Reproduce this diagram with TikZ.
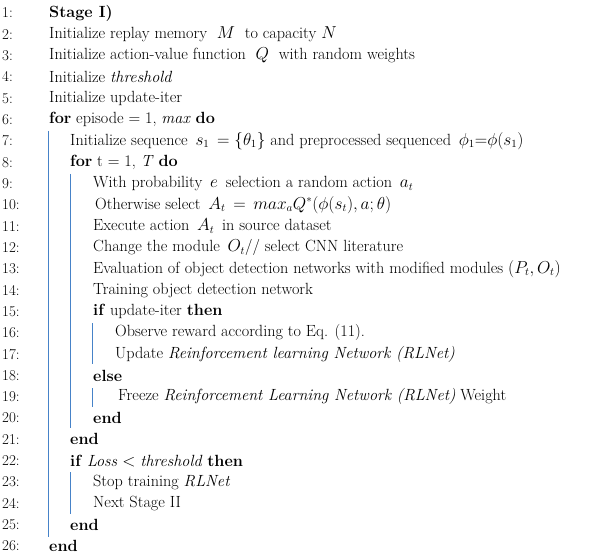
\documentclass[tikz,border=0pt]{standalone}
\usepackage{amsmath}
\begin{document}
\begin{tikzpicture}[x=1pt,y=-1pt,
  num/.style={anchor=west,inner sep=0pt,font=\fontsize{15}{17}\selectfont},
  txt/.style={anchor=west,inner sep=0pt,font=\fontsize{16.2}{18}\selectfont},
  bar/.style={draw={rgb,255:red,70;green,130;blue,200},line width=0.9pt}]
\useasboundingbox (0,0) rectangle (611,559);
\foreach \i in {1,...,26}{\node[num] (n\i) at (2,{13+(\i-1)*21.32}) {\i:};}
\newcommand\algline[3]{\node[txt] (t#1) at (#2,{13+(#1-1)*21.32}) {#3};}
\algline{1}{49}{\textbf{Stage I)}}
\algline{2}{49}{Initialize replay memory $\;M\;$ to capacity $N$}
\algline{3}{49}{Initialize action-value function $\;Q\;$ with random weights}
\algline{4}{49}{Initialize \textit{threshold}}
\algline{5}{49}{Initialize update-iter}
\algline{6}{49}{\textbf{for} episode = 1, \textit{max} \textbf{do}}
\algline{7}{70}{Initialize sequence $\,s_1\,=\{\theta_1\}$ and preprocessed sequenced $\,\phi_1{=}\phi(s_1)$}
\algline{8}{70}{\textbf{for} t = 1, \textit{T} \textbf{do}}
\algline{9}{93}{With probability $\,e\,$ selection a random action $\,a_t$}
\algline{10}{95}{Otherwise select $\,A_t\,=\,max_aQ^*(\phi(s_t),a;\theta)$}
\algline{11}{93}{Execute action $\,A_t\,$ in source dataset}
\algline{12}{93}{Change the module $\,O_t$// select CNN literature}
\algline{13}{93}{Evaluation of object detection networks with modified modules $(P_t,O_t)$}
\algline{14}{93}{Training object detection network}
\algline{15}{93}{\textbf{if} update-iter \textbf{then}}
\algline{16}{115}{Observe reward according to Eq. (11).}
\algline{17}{115}{Update \textit{Reinforcement learning Network (RLNet)}}
\algline{18}{93}{\textbf{else}}
\algline{19}{118}{Freeze \textit{Reinforcement Learning Network (RLNet)} Weight}
\algline{20}{93}{\textbf{end}}
\algline{21}{70}{\textbf{end}}
\algline{22}{70}{\textbf{if} \textit{Loss} $<$ \textit{threshold} \textbf{then}}
\algline{23}{93}{Stop training \textit{RLNet}}
\algline{24}{93}{Next Stage II}
\algline{25}{70}{\textbf{end}}
\algline{26}{49}{\textbf{end}}
\coordinate (a1) at (48,131); \coordinate (a2) at (48,537);
\coordinate (b1) at (70,174); \coordinate (b2) at (70,428);
\coordinate (c1) at (92,323); \coordinate (c2) at (92,364);
\coordinate (d1) at (92,388); \coordinate (d2) at (92,407);
\coordinate (e1) at (70,472); \coordinate (e2) at (70,514);
\draw[bar] (a1) -- (a2);
\draw[bar] (b1) -- (b2);
\draw[bar] (c1) -- (c2);
\draw[bar] (d1) -- (d2);
\draw[bar] (e1) -- (e2);
\end{tikzpicture}
\end{document}
